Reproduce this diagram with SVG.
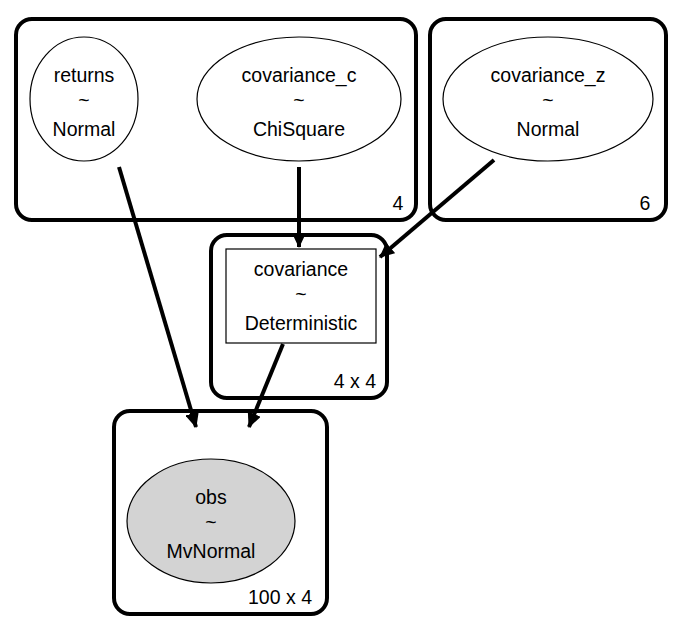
<svg xmlns="http://www.w3.org/2000/svg" width="687" height="638" viewBox="0 0 687 638">
<style>
.cl{fill:none;stroke:#000;stroke-width:4}
.n{fill:#fff;stroke:#000;stroke-width:1.2}
text{font-family:"Liberation Sans",Arial,sans-serif;font-size:19.5px;fill:#000;text-anchor:middle}
.e{stroke:#000;stroke-width:4;fill:none;marker-end:url(#a)}
</style>
<defs><marker id="a" markerUnits="userSpaceOnUse" markerWidth="16" markerHeight="14" refX="14" refY="7" orient="auto"><path d="M0,0 L15,7 L0,14 Z" fill="#000"/></marker></defs>
<rect width="687" height="638" fill="#fff"/>
<g id="cluster_4"><rect class="cl" x="16" y="19" width="400" height="201" rx="16"/><text x="398" y="210">4</text></g>
<g id="cluster_6"><rect class="cl" x="430" y="19" width="236" height="201" rx="16"/><text x="645" y="210">6</text></g>
<g id="cluster_4x4"><rect class="cl" x="211" y="235" width="176" height="163" rx="16"/><text x="355" y="388">4 x 4</text></g>
<g id="cluster_100x4"><rect class="cl" x="114" y="411" width="213" height="203" rx="16"/><text x="280" y="604">100 x 4</text></g>
<g id="returns"><ellipse class="n" cx="84" cy="99" rx="54" ry="62"/><text x="84" y="82">returns</text><text x="84" y="107">~</text><text x="84" y="136">Normal</text></g>
<g id="covariance_c"><ellipse class="n" cx="299" cy="99" rx="102" ry="62"/><text x="299" y="82">covariance_c</text><text x="299" y="107">~</text><text x="299" y="136">ChiSquare</text></g>
<g id="covariance_z"><ellipse class="n" cx="548" cy="99" rx="105" ry="62"/><text x="548" y="82">covariance_z</text><text x="548" y="107">~</text><text x="548" y="136">Normal</text></g>
<g id="covariance"><rect class="n" x="226" y="249" width="150" height="94"/><text x="301" y="276">covariance</text><text x="301" y="301">~</text><text x="301" y="330">Deterministic</text></g>
<g id="obs"><ellipse cx="211" cy="521" rx="84" ry="62" fill="#d3d3d3" stroke="#000" stroke-width="1.2"/><text x="211" y="504">obs</text><text x="211" y="529">~</text><text x="211" y="558">MvNormal</text></g>
<g id="edges">
<path class="e" d="M119,167 L196,427"/>
<path class="e" d="M299,167 L299,247"/>
<path class="e" d="M494,160 L380,257"/>
<path class="e" d="M283,344 L249,427"/>
</g>
</svg>
